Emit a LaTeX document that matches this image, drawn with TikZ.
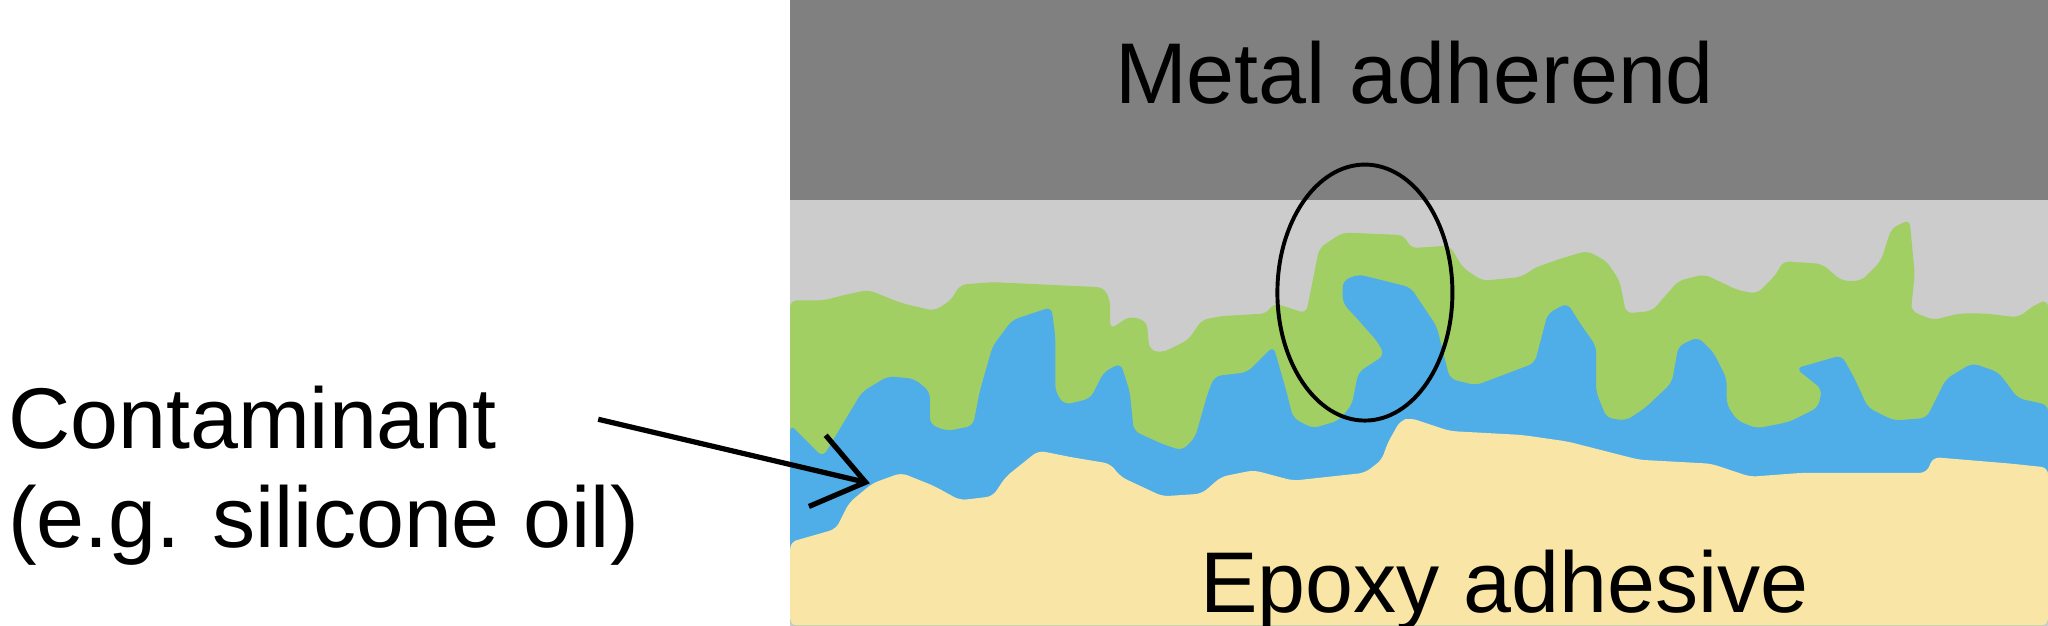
\documentclass[tikz,border=0pt]{standalone}
\usepackage{fontspec}
\setmainfont{Liberation Sans}
\usetikzlibrary{positioning,arrows.meta,shapes.geometric}
\definecolor{metal}{HTML}{808080}
\definecolor{oxide}{HTML}{CCCCCC}
\definecolor{interphase}{HTML}{A1CF64}
\definecolor{contam}{HTML}{4FADE8}
\definecolor{epoxy}{HTML}{F9E6A6}
\begin{document}
\begin{tikzpicture}[x=1pt,y=-1pt,
    layer/.style={rounded corners=5pt, draw=none},
    label/.style={font=\fontsize{66}{78}\selectfont, inner sep=0pt, align=left},
    pointer/.style={line width=4pt, -{Straight Barb[length=38pt,width=56pt,line width=4pt]}}
]
\useasboundingbox (0,0) rectangle (1568,479);
\fill[white] (0,0) rectangle (1568,479);
% layers
\fill[metal] (605,0) rectangle (1568,153);
\fill[oxide] (605,153) rectangle (1568,479);
\fill[interphase,layer] (605,230) -- (630,230) -- (650,225) -- (665,222) -- (690,232) -- (715,238) -- (728,230) -- (735,218) -- (760,216) -- (845,220) -- (850,230) -- (850,252) -- (865,242) -- (878,246) -- (880,268) -- (890,270) -- (910,260) -- (920,245) -- (935,242) -- (970,240) -- (975,232) -- (985,235) -- (1000,240) -- (1005,215) -- (1010,190) -- (1028,178) -- (1075,180) -- (1080,190) -- (1110,188) -- (1120,205) -- (1135,215) -- (1165,212) -- (1175,205) -- (1195,198) -- (1215,192) -- (1230,200) -- (1240,215) -- (1245,240) -- (1265,238) -- (1285,215) -- (1305,210) -- (1330,222) -- (1345,225) -- (1360,210) -- (1365,200) -- (1395,202) -- (1410,215) -- (1425,215) -- (1440,200) -- (1448,175) -- (1462,168) -- (1466,210) -- (1463,238) -- (1480,245) -- (1500,240) -- (1520,240) -- (1545,243) -- (1560,232) -- (1568,230) -- (1568,479) -- (605,479) -- cycle;
\fill[contam,layer] (605,325) -- (630,350) -- (660,300) -- (680,288) -- (700,290) -- (712,300) -- (712,325) -- (725,330) -- (745,326) -- (750,300) -- (760,265) -- (775,245) -- (805,235) -- (808,258) -- (808,300) -- (815,310) -- (835,305) -- (845,285) -- (858,278) -- (865,300) -- (868,330) -- (890,340) -- (905,345) -- (915,335) -- (925,300) -- (930,288) -- (955,285) -- (975,265) -- (985,300) -- (990,320) -- (1005,328) -- (1025,322) -- (1035,310) -- (1040,285) -- (1060,272) -- (1055,262) -- (1040,245) -- (1028,232) -- (1028,215) -- (1040,210) -- (1080,220) -- (1100,250) -- (1110,290) -- (1130,295) -- (1175,278) -- (1185,240) -- (1200,232) -- (1210,248) -- (1222,265) -- (1222,300) -- (1230,320) -- (1245,322) -- (1260,312) -- (1280,293) -- (1285,265) -- (1300,258) -- (1312,270) -- (1322,290) -- (1322,310) -- (1330,322) -- (1345,328) -- (1370,323) -- (1392,312) -- (1395,298) -- (1375,282) -- (1410,272) -- (1420,290) -- (1430,312) -- (1450,322) -- (1475,320) -- (1490,290) -- (1510,278) -- (1530,285) -- (1545,305) -- (1568,310) -- (1568,479) -- (605,479) -- cycle;
\fill[epoxy,layer] (605,415) -- (640,405) -- (650,385) -- (668,370) -- (690,362) -- (715,372) -- (735,383) -- (760,380) -- (770,365) -- (795,345) -- (820,350) -- (850,355) -- (858,365) -- (890,380) -- (920,378) -- (935,365) -- (960,360) -- (990,368) -- (1045,362) -- (1058,352) -- (1062,340) -- (1072,322) -- (1080,320) -- (1110,330) -- (1165,333) -- (1200,338) -- (1255,352) -- (1310,355) -- (1340,365) -- (1380,362) -- (1475,362) -- (1480,350) -- (1540,355) -- (1568,358) -- (1568,479) -- (605,479) -- cycle;
% labels
\node[label] (metal) at (1083,56) {Metal adherend};
\node[label] (epoxy) at (1152,452) {Epoxy adhesive};
\node[label, anchor=west] (contaminant) at (6,320) {Contaminant};
\node[label, anchor=west] (example) at (6,402) {(e.g. silicone oil)};
\node[draw, line width=3pt, ellipse, minimum width=134pt, minimum height=196pt] (zone) at (1045,224) {};
\coordinate (tail) at (458,321);
\coordinate (tip) at (666,370);
\draw[pointer] (tail) -- (tip);
\end{tikzpicture}
\end{document}
